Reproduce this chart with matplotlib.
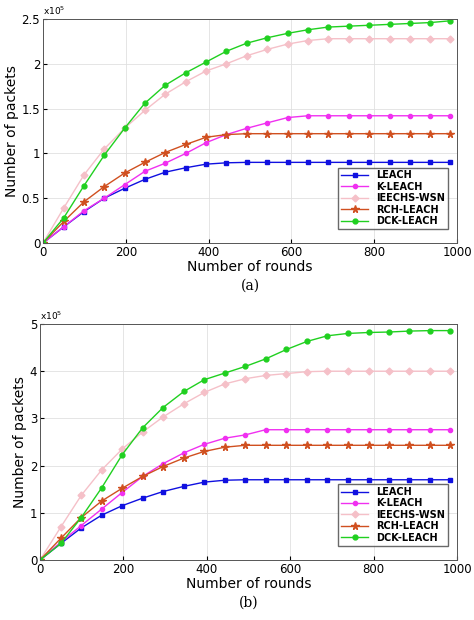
import matplotlib
matplotlib.use("Agg")
import matplotlib.pyplot as plt

rounds = [0,50,99,148,197,246,295,345,394,443,492,541,591,640,689,738,788,837,886,935,984]
names = ["LEACH","K-LEACH","IEECHS-WSN","RCH-LEACH","DCK-LEACH"]
a_leach = [0,0.18,0.35,0.5,0.61,0.71,0.79,0.84,0.88,0.895,0.9,0.9,0.9,0.9,0.9,0.9,0.9,0.9,0.9,0.9,0.9]
a_k = [0,0.18,0.36,0.5,0.65,0.8,0.89,1.0,1.12,1.21,1.28,1.34,1.4,1.42,1.42,1.42,1.42,1.42,1.42,1.42,1.42]
a_ie = [0,0.39,0.76,1.05,1.28,1.48,1.66,1.8,1.92,2.0,2.09,2.16,2.22,2.26,2.28,2.28,2.28,2.28,2.28,2.28,2.28]
a_rch = [0,0.24,0.46,0.63,0.78,0.9,1.01,1.1,1.18,1.21,1.22,1.22,1.22,1.22,1.22,1.22,1.22,1.22,1.22,1.22,1.22]
a_dck = [0,0.28,0.64,0.98,1.28,1.56,1.76,1.9,2.02,2.14,2.23,2.29,2.34,2.38,2.41,2.42,2.43,2.44,2.45,2.46,2.48]
b_leach = [0,0.35,0.68,0.95,1.15,1.31,1.45,1.56,1.65,1.69,1.7,1.7,1.7,1.7,1.7,1.7,1.7,1.7,1.7,1.7,1.7]
b_k = [0,0.38,0.73,1.08,1.43,1.77,2.04,2.27,2.45,2.58,2.65,2.76,2.76,2.76,2.76,2.76,2.76,2.76,2.76,2.76,2.76]
b_ie = [0,0.7,1.37,1.91,2.35,2.71,3.03,3.31,3.55,3.73,3.84,3.91,3.95,3.99,4.0,4.0,4.0,4.0,4.0,4.0,4.0]
b_rch = [0,0.46,0.9,1.25,1.52,1.77,1.98,2.16,2.3,2.39,2.43,2.43,2.43,2.43,2.43,2.43,2.43,2.43,2.43,2.43,2.43]
b_dck = [0,0.35,0.9,1.53,2.23,2.8,3.23,3.57,3.82,3.96,4.1,4.26,4.46,4.63,4.75,4.8,4.82,4.83,4.85,4.86,4.86]

styles = [("#1010e0","s",3.5),("#f030f0","o",3),("#f5c0c8","D",3.5),("#d05020","*",5.5),("#20d020","o",3.5)]

fig = plt.figure(figsize=(4.74,6.2), dpi=100)
W,H = 474,620
def draw(box, series, ymax, yticks, ylabels, cap):
    l,t,r,b = box
    ax = fig.add_axes([l/W, 1-b/H, (r-l)/W, (b-t)/H])
    for nm,ys,(c,m,ms) in zip(names, series, styles):
        ax.plot(rounds, ys, color=c, marker=m, ms=ms, lw=1, label=nm)
    ax.set_xlim(0,1000); ax.set_ylim(0,ymax)
    ax.set_xticks([0,200,400,600,800,1000])
    ax.set_yticks(yticks); ax.set_yticklabels(ylabels)
    ax.grid(True, color="#e0e0e0", lw=0.6)
    ax.tick_params(labelsize=8.5, direction="in", length=3, pad=2)
    for s in ax.spines.values(): s.set_color("#555555"); s.set_linewidth(0.7)
    ax.set_xlabel("Number of rounds", fontsize=10, labelpad=1)
    ax.set_ylabel("Number of packets", fontsize=10, labelpad=2)
    ax.text(0, 1.01, "x10$^5$", transform=ax.transAxes, fontsize=6.5, ha="left", va="bottom")
    leg = ax.legend(loc="lower right", bbox_to_anchor=(0.99,0.04), prop={"weight":"bold","size":7}, fancybox=False, edgecolor="#444444", handlelength=2.8, borderpad=0.3, labelspacing=0.15)
    fig.text((l+r)/2/W, 1-(b+47)/H, cap, ha="center", fontsize=10, family="DejaVu Serif")
    return ax

draw((43,19,457,243), [a_leach,a_k,a_ie,a_rch,a_dck], 2.5, [0,0.5,1,1.5,2,2.5], ["0","0.5","1","1.5","2","2.5"], "(a)")
draw((40,324,457,560), [b_leach,b_k,b_ie,b_rch,b_dck], 5, [0,1,2,3,4,5], ["0","1","2","3","4","5"], "(b)")
fig.savefig("out.png", dpi=100)
